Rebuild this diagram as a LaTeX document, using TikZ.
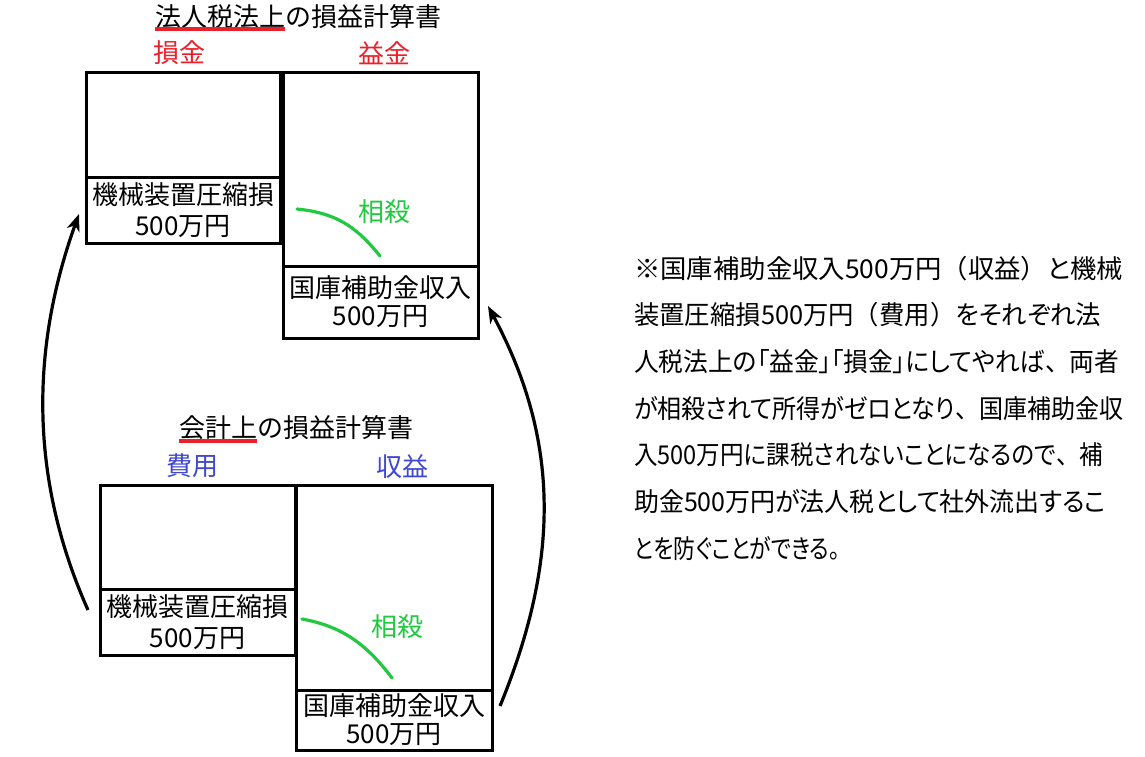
\documentclass[tikz,border=0pt]{standalone}
\usepackage{fontspec}
\usepackage{graphicx}
\setmainfont{Noto Sans CJK JP}
\newfontfamily\paltfont[RawFeature=+palt]{Noto Sans CJK JP}
\newfontfamily\fullfont{Noto Sans CJK JP}
\newcommand{\fw}[1]{{\fullfont #1}}
\newcommand{\fitline}[2]{\resizebox{#1}{\height}{#2}}
\usetikzlibrary{arrows.meta}
\definecolor{myred}{RGB}{235,32,42}
\definecolor{myblue}{RGB}{64,72,208}
\definecolor{mygreen}{RGB}{34,200,64}
\tikzset{
  cell/.style={draw=black, line width=3pt, inner sep=0pt, outer sep=0pt, align=center},
  lbl/.style={inner sep=0pt, font=\fontsize{26}{26}\selectfont},
  redlbl/.style={lbl, text=myred},
  bluelbl/.style={lbl, text=myblue},
  greenlbl/.style={lbl, text=mygreen},
  ttl/.style={inner sep=0pt, outer sep=0pt, font=\fontsize{26}{26}\selectfont},
  uline/.style={draw=myred, line width=3.2pt},
  offset/.style={draw=mygreen, line width=3.2pt, line cap=round},
  arr/.style={draw=black, line width=3.2pt, -{Stealth[length=17pt,width=13pt,inset=5pt]}},
  para/.style={inner sep=0pt, anchor=base west, font=\paltfont\fontsize{26}{26}\selectfont}
}
\begin{document}
\begin{tikzpicture}[x=1pt,y=-1pt]
\useasboundingbox[fill=white] (0,0) rectangle (1145,756);

% ---- top statement ----
\node[ttl, anchor=base west] (ta) at (155,26) {法人税法上};
\node[ttl, anchor=base west] (tb) at (ta.base east) {の損益計算書};
\draw[uline] ([yshift=-3pt]ta.base west) -- ([yshift=-3pt]ta.base east);
\node[redlbl] (sonkin) at (179,53) {損金};
\node[redlbl] (ekikin) at (384,53) {益金};

\node[cell, minimum width=194, minimum height=105] (ul1) at (183,124.5) {};
\node[cell, minimum width=194, minimum height=66, font=\fontsize{26}{31}\selectfont] (ul2) at (183,210) {機械装置圧縮損\\500万円};
\node[cell, minimum width=195, minimum height=194] (ur1) at (380.5,169) {};
\node[cell, minimum width=195, minimum height=72, font=\fontsize{26}{28}\selectfont] (ur2) at (380.5,302) {国庫補助金収入\\500万円};
\draw[offset] (297,209) .. controls (335,213) and (355,225) .. (380,256);
\node[greenlbl] (sousai1) at (384,212) {相殺};

% ---- bottom statement ----
\node[ttl, anchor=base west] (ba) at (179,437) {会計上};
\node[ttl, anchor=base west] (bb) at (ba.base east) {の損益計算書};
\draw[uline] ([yshift=-4pt]ba.base west) -- ([yshift=-4pt]ba.base east);
\node[bluelbl] (hiyou) at (192,466) {費用};
\node[bluelbl] (shueki) at (402.5,467) {収益};

\node[cell, minimum width=195, minimum height=104] (ll1) at (197.5,537) {};
\node[cell, minimum width=195, minimum height=66, font=\fontsize{26}{31}\selectfont] (ll2) at (197.5,622) {機械装置圧縮損\\500万円};
\node[cell, minimum width=196, minimum height=205] (lr1) at (394,587.5) {};
\node[cell, minimum width=196, minimum height=60, font=\fontsize{26}{28}\selectfont] (lr2) at (394,720) {国庫補助金収入\\500万円};
\draw[offset] (302,619) .. controls (340,626) and (365,642) .. (392,678);
\node[greenlbl] (sousai2) at (397.5,627) {相殺};

% ---- arrows ----
\draw[arr] ([shift={(-12pt,12pt)}]ll2.west) .. controls (30,480) and (30,350) .. ([shift={(-7pt,-4pt)}]ul2.west);
\draw[arr] ([shift={(8pt,14pt)}]lr2.east) .. controls (560,560) and (560,440) .. ([shift={(10pt,-4pt)}]ur2.east);

% ---- note ----
\node[para] (p1) at (634,278) {\fitline{489pt}{※国庫補助金収入500万円\fw{（}収益\fw{）}と機械}};
\node[para] (p2) at (634,324.7) {\fitline{467pt}{装置圧縮損500万円\fw{（}費用\fw{）}をそれぞれ法}};
\node[para] (p3) at (634,371.3) {\fitline{485pt}{人税法上の「益金」「損金」にしてやれば\fw{、}両者}};
\node[para] (p4) at (634,418) {\fitline{489pt}{が相殺されて所得がゼロとなり\fw{、}国庫補助金収}};
\node[para] (p5) at (634,464.7) {\fitline{469pt}{入500万円に課税されないことになるので\fw{、}補}};
\node[para] (p6) at (634,511.3) {\fitline{472pt}{助金500万円が法人税として社外流出するこ}};
\node[para] (p7) at (634,558) {\fitline{217pt}{とを防ぐことができる\fw{。}}};
\end{tikzpicture}
\end{document}
